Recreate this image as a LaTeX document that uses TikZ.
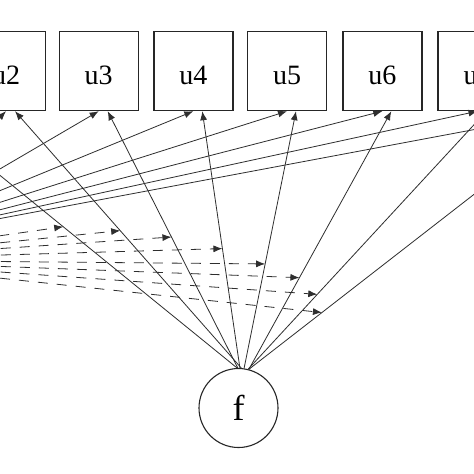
\documentclass[tikz,border=0pt]{standalone}
\usepackage{fontspec}
\setmainfont{Liberation Serif}
\usetikzlibrary{arrows.meta,calc}
\definecolor{ln}{HTML}{2E2E2E}
\tikzset{
  obs/.style={draw=black!85,line width=1.4pt,minimum size=79pt,inner sep=0pt,text height=26pt,text depth=0pt,font=\fontsize{28}{28}\selectfont},
  lat/.style={draw=black!85,line width=1.1pt,circle,minimum size=79pt,inner sep=0pt,font=\fontsize{36}{36}\selectfont},
  ld/.style={draw=ln,line width=0.8pt,-{Latex[length=9pt,width=7pt]}},
  dd/.style={draw=ln,line width=0.8pt,dash pattern=on 10pt off 9pt,-{Latex[length=9pt,width=7pt]}}
}
\begin{document}
\begin{tikzpicture}[x=1pt,y=-1pt]
\useasboundingbox (0,0) rectangle (474,474);
\clip (0,0) rectangle (474,474);
\fill[white] (0,0) rectangle (474,474);
\node[obs] (u1) at (-88,71) {u1};
\node[obs] (u2) at (6,71) {u2};
\node[obs] (u3) at (98.7,71) {u3};
\node[obs] (u4) at (193.3,71) {u4};
\node[obs] (u5) at (287,71) {u5};
\node[obs] (u6) at (382.3,71) {u6};
\node[obs] (u7) at (477.5,71) {u7};
\node[obs] (u8) at (572,71) {u8};
\node[lat] (f) at (238.5,408) {f};
\coordinate (g) at (-125,242);
\coordinate (h) at (-170,260);
% loadings from f
\foreach \u/\a in {u1/92,u2/86,u3/91,u4/88,u5/82,u6/75,u7/76,u8/75}{
  \draw[ld] (f.\a) -- ($(\u.south)+(9,0)$);
}
% loadings from the factor outside the picture
\foreach \u in {u2,u3,u4,u5,u6,u7,u8}{
  \draw[ld] (g) -- (\u.south);
}
% points on the f paths
\foreach \u/\a/\t/\m in {u1/92/0.55/m1,u2/86/0.535/m2,u3/91/0.51/m3,u4/88/0.465/m4,u5/82/0.406/m5,u6/75/0.355/m6,u7/76/0.29/m7,u8/75/0.22/m8}{
  \path (f.\a) -- ($(\u.south)+(9,0)$) coordinate[pos=\t] (\m);
}
\foreach \m in {m1,m2,m3,m4,m5,m6,m7,m8}{
  \draw[dd] (h) -- (\m);
}
\end{tikzpicture}
\end{document}
